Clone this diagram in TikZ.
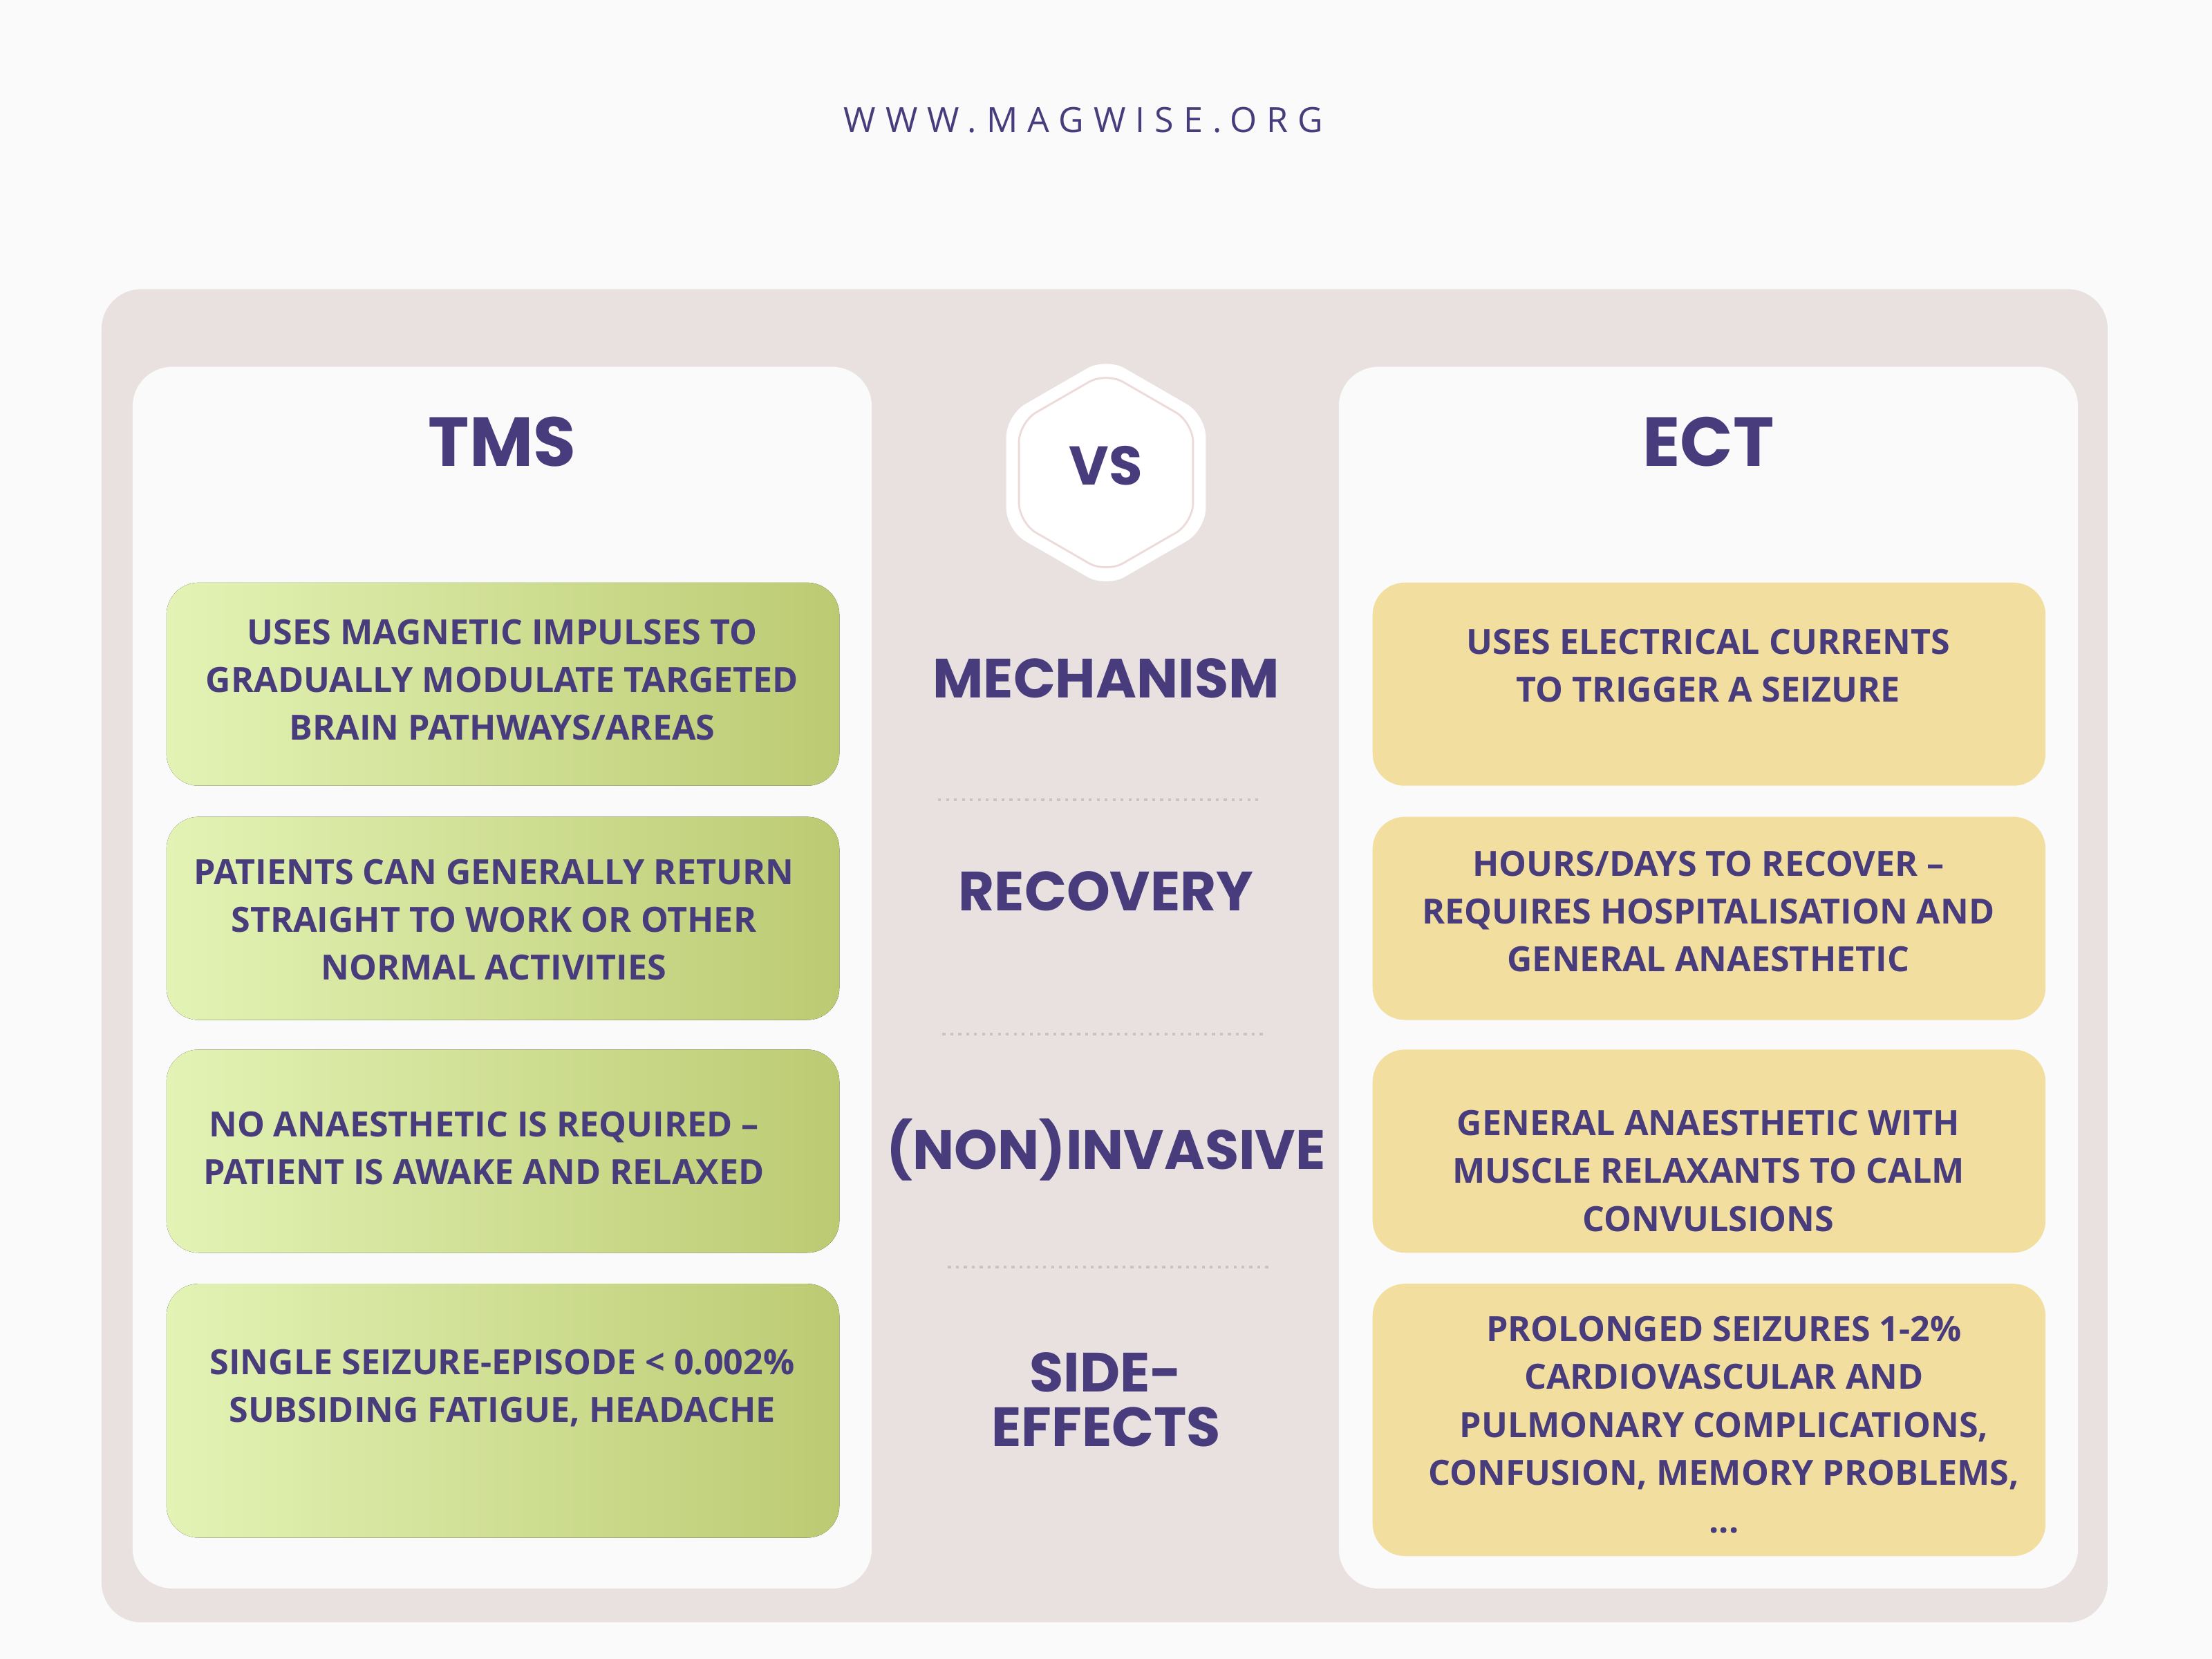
\documentclass[tikz,border=0pt]{standalone}
\usepackage{fontspec}
\setmainfont{Open Sans}
\newfontfamily\pop{Poppins}
\usetikzlibrary{shapes.geometric}
\definecolor{ink}{HTML}{483C7C}
\definecolor{bg}{HTML}{FAFAFA}
\definecolor{frame}{HTML}{E8E1DF}
\definecolor{gl}{HTML}{E3F3B5}
\definecolor{gr}{HTML}{BCCB72}
\definecolor{yl}{HTML}{F2DF9F}
\definecolor{dotc}{HTML}{C9C4C4}
\begin{document}
\begin{tikzpicture}[x=0.02cm,y=-0.02cm,
  boxtxt/.style={text=ink,align=center,font=\bfseries\fontsize{14}{19.3}\selectfont},
  head/.style={text=ink,font=\pop\bfseries\fontsize{28}{30}\selectfont},
  mid/.style={text=ink,align=center,font=\pop\bfseries\fontsize{22.3}{20}\selectfont},
  sep/.style={dotc,line width=1.2pt,dotted}]
\fill[bg] (0,0) rectangle (1568,1176);
\useasboundingbox (0,0) rectangle (1568,1176);
\node[text=ink,font=\fontsize{14}{18}\selectfont\addfontfeature{LetterSpace=28}] (url) at (768,85) {WWW.MAGWISE.ORG};
\fill[frame,rounded corners=16pt] (72,205) rectangle (1494,1150);
\fill[bg,rounded corners=16pt] (94,260) rectangle (618,1126);
\fill[bg,rounded corners=16pt] (949,260) rectangle (1473,1126);
\node[head] (tms) at (356,313) {TMS};
\node[head] (ect) at (1211,313) {ECT};
\node[regular polygon,regular polygon sides=6,shape border rotate=30,minimum size=3.3cm,fill=white,draw=frame,line width=0.8pt,rounded corners=9pt] (hex) at (784,335) {};
\node[regular polygon,regular polygon sides=6,shape border rotate=30,minimum size=2.85cm,draw=frame!80!pink,line width=0.8pt,rounded corners=8pt] (hexin) at (784,335) {};
\node[text=ink,font=\pop\bfseries\fontsize{22}{24}\selectfont] (vs) at (784,330) {VS};
\foreach \a/\b in {413/557,579/723,744/888,910/1090}{
  \fill[left color=gl,right color=gr,rounded corners=13pt] (118,\a) rectangle (595,\b);}
\foreach \a/\b in {413/557,579/723,744/888,910/1103}{
  \fill[yl,rounded corners=13pt] (973,\a) rectangle (1450,\b);}
\node[boxtxt] (g1) at (356,482) {USES MAGNETIC IMPULSES TO\\GRADUALLY MODULATE TARGETED\\BRAIN PATHWAYS/AREAS};
\node[boxtxt] (g2) at (350,652) {PATIENTS CAN GENERALLY RETURN\\STRAIGHT TO WORK OR OTHER\\NORMAL ACTIVITIES};
\node[boxtxt] (g3) at (343,814) {NO ANAESTHETIC IS REQUIRED –\\PATIENT IS AWAKE AND RELAXED};
\node[boxtxt] (g4) at (356,984) {SINGLE SEIZURE-EPISODE < 0.002\%\\SUBSIDING FATIGUE, HEADACHE};
\node[boxtxt] (y1) at (1211,472) {USES ELECTRICAL CURRENTS\\TO TRIGGER A SEIZURE};
\node[boxtxt] (y2) at (1211,646) {HOURS/DAYS TO RECOVER –\\REQUIRES HOSPITALISATION AND\\GENERAL ANAESTHETIC};
\node[boxtxt] (y3) at (1211,830) {GENERAL ANAESTHETIC WITH\\MUSCLE RELAXANTS TO CALM\\CONVULSIONS};
\node[boxtxt] (y4) at (1222,1010) {PROLONGED SEIZURES 1-2\%\\CARDIOVASCULAR AND\\PULMONARY COMPLICATIONS,\\CONFUSION, MEMORY PROBLEMS,\\...};
\node[mid] (m1) at (784,481) {MECHANISM};
\node[mid] (m2) at (784,632) {RECOVERY};
\node[mid] (m3) at (784,815) {(NON)INVASIVE};
\node[mid,font=\pop\bfseries\fontsize{22.3}{22}\selectfont] (m4) at (784,992) {SIDE-\\EFFECTS};
\coordinate (s1a) at (665,567); \coordinate (s1b) at (895,567);
\coordinate (s2a) at (668,733); \coordinate (s2b) at (898,733);
\coordinate (s3a) at (672,898); \coordinate (s3b) at (902,898);
\draw[sep] (s1a) -- (s1b);
\draw[sep] (s2a) -- (s2b);
\draw[sep] (s3a) -- (s3b);
\end{tikzpicture}
\end{document}
